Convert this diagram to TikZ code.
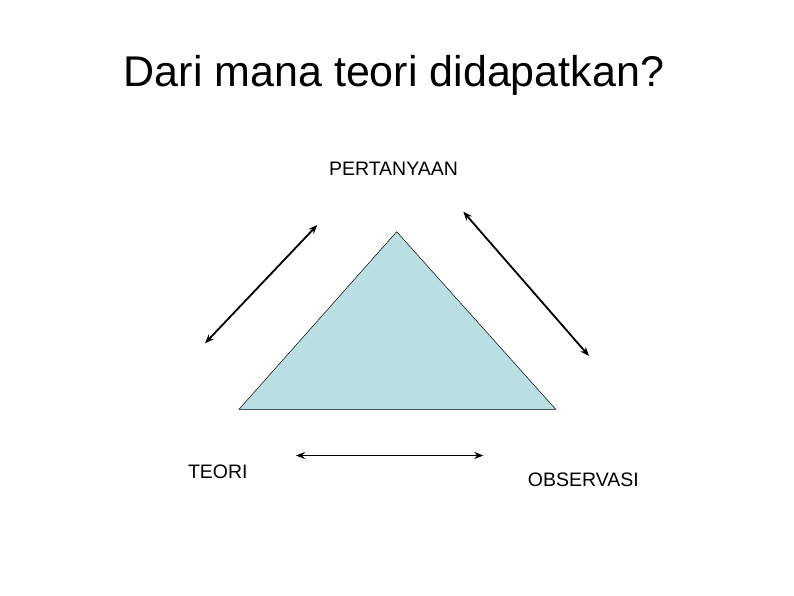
\documentclass[tikz,border=0pt]{standalone}
\usepackage{fontspec}
\setmainfont{Liberation Sans}
\usetikzlibrary{arrows.meta}

\definecolor{segitiga}{RGB}{186,223,227}

\tikzset{
  judul/.style={anchor=base, inner sep=0pt, font=\fontsize{43}{49}\selectfont},
  label/.style={anchor=base, inner sep=0pt, font=\fontsize{19.5}{23}\selectfont},
  panah/.style={{Stealth[length=9pt,width=7pt]}-{Stealth[length=9pt,width=7pt]}, line width=1.8pt}
}

\begin{document}
\begin{tikzpicture}[x=1pt,y=-1pt]

  \useasboundingbox (0,0) rectangle (794,595);

  \node[judul] (judul) at (394,86.7) {Dari mana teori didapatkan?};

  % label di tiap sudut
  \node[label] (pertanyaan) at (393.5,175.7) {PERTANYAAN};
  \node[label] (teori) at (217.8,478.3) {TEORI};
  \node[label] (observasi) at (583.3,486.7) {OBSERVASI};

  % segitiga di tengah
  \coordinate (puncak) at (396.7,231.7);
  \coordinate (kiri) at (239,409.3);
  \coordinate (kanan) at (555.7,409.3);
  \filldraw[fill=segitiga, draw=black, line width=0.5pt] (puncak)--(kanan)--(kiri)--cycle;

  % ujung panah
  \coordinate (A1) at (205,343.3);
  \coordinate (B1) at (317.3,225);
  \coordinate (A2) at (463.3,211.7);
  \coordinate (B2) at (589,356);
  \coordinate (A3) at (296,455.5);
  \coordinate (B3) at (483.3,455.5);

  \draw[panah] (A1)--(B1);
  \draw[panah] (A2)--(B2);
  \draw[panah] (A3)--(B3);

\end{tikzpicture}
\end{document}
